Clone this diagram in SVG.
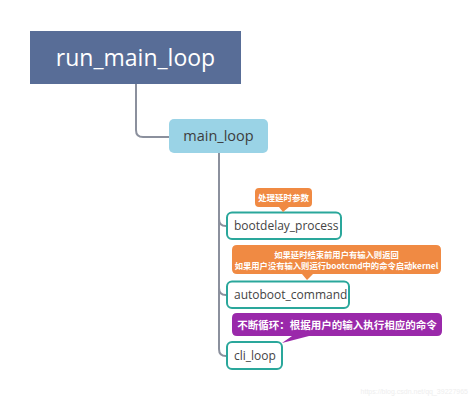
<svg xmlns="http://www.w3.org/2000/svg" width="474" height="400" viewBox="0 0 474 400">
<style>
.conn{fill:none;stroke:#8b909d;stroke-width:2}
.sub{fill:#fff;stroke:#2aa79b;stroke-width:2}
.subt{font-family:"Open Sans","Noto Sans",sans-serif;font-size:12px;fill:#444}
.co{font-family:"Noto Sans CJK SC",sans-serif;font-weight:bold;fill:#fff;text-anchor:middle}
</style>
<rect width="474" height="400" fill="#fff"/>
<g id="connectors">
<path class="conn" d="M136,84 V130 Q136,137 143,137 H169"/>
<path class="conn" d="M219,153 V349 Q219,356 226,356 H227"/>
<path class="conn" d="M219,219 Q219,226 226,226 H227"/>
<path class="conn" d="M219,288 Q219,295 226,295 H227"/>
</g>
<g id="run_main_loop">
<rect x="30" y="31" width="211" height="53" fill="#586d97"/>
<text x="135.5" y="66" text-anchor="middle" font-family="'Open Sans','Noto Sans',sans-serif" font-size="23" fill="#fff">run_main_loop</text>
</g>
<g id="main_loop">
<rect x="169" y="119" width="99" height="34" rx="5" fill="#9ad3e6"/>
<text x="218.5" y="141" text-anchor="middle" font-family="'Open Sans','Noto Sans',sans-serif" font-size="14.5" fill="#3d3d3d">main_loop</text>
</g>
<g id="bootdelay_process">
<rect class="sub" x="227" y="212.5" width="114" height="26.5" rx="5"/>
<text class="subt" x="234" y="230">bootdelay_process</text>
</g>
<g id="note1">
<path d="M259,188 H308 Q312,188 312,192 V203 Q312,207 308,207 H289 L283,212 L279,207 H259 Q255,207 255,203 V192 Q255,188 259,188 Z" fill="#f08a43"/>
<text class="co" x="283.5" y="201" font-size="8.5">处理延时参数</text>
</g>
<g id="autoboot_command">
<rect class="sub" x="227" y="281.5" width="122" height="26.5" rx="5"/>
<text class="subt" x="234" y="299">autoboot_command</text>
</g>
<g id="note2">
<path d="M237,245 H436 Q441,245 441,250 V269 Q441,274 436,274 H313 L307,280 L302,274 H237 Q232,274 232,269 V250 Q232,245 237,245 Z" fill="#f08a43"/>
<text class="co" x="336.5" y="258" font-size="8.3">如果延时结束前用户有输入则返回</text>
<text class="co" x="336.5" y="269" font-size="8.3">如果用户没有输入则运行bootcmd中的命令启动kernel</text>
</g>
<g id="cli_loop">
<rect class="sub" x="227" y="342" width="55" height="27" rx="5"/>
<text class="subt" x="234" y="360">cli_loop</text>
</g>
<g id="note3">
<path d="M237,313 H437 Q442,313 442,318 V331 Q442,336 437,336 H309 L282,343 L292,336 H237 Q232,336 232,331 V318 Q232,313 237,313 Z" fill="#9a29aa"/>
<text class="co" x="337" y="329" font-size="10.5">不断循环：根据用户的输入执行相应的命令</text>
</g>
<text x="468" y="394" text-anchor="end" font-family="'Liberation Sans',sans-serif" font-size="7" fill="#eeeeee">https://blog.csdn.net/qq_39227965</text>
</svg>
